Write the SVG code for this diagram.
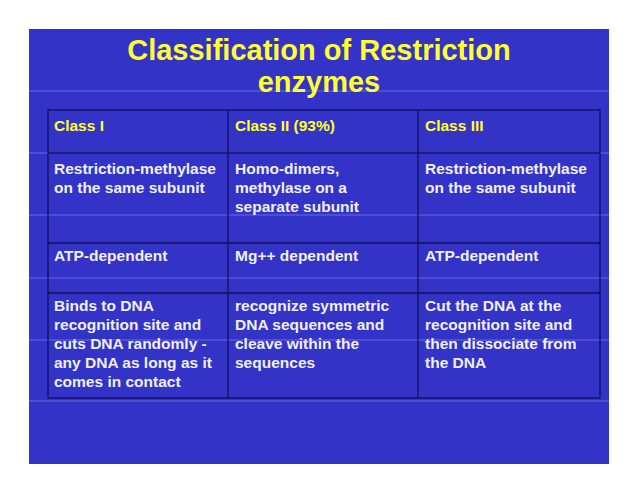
<svg xmlns="http://www.w3.org/2000/svg" width="638" height="493" viewBox="0 0 638 493">
<style>
.t{font-family:"Liberation Sans",Arial,sans-serif;font-weight:bold;fill:#ffff33;font-size:29px;text-anchor:middle}
.h{font-family:"Liberation Sans",Arial,sans-serif;font-weight:bold;fill:#ffff33;font-size:15.5px}
.b{font-family:"Liberation Sans",Arial,sans-serif;font-weight:bold;fill:#f0f0f8;font-size:15.5px}
.g{stroke:#6a6ae0;stroke-width:1}
.k{stroke:#10105a;stroke-width:1.3;fill:none}
</style>
<rect width="638" height="493" fill="#fff"/>
<rect x="29" y="29" width="580" height="435" fill="#3333c8"/>
<g id="grid">
<line class="g" x1="29" y1="91" x2="609" y2="91"/>
<line class="g" x1="29" y1="153" x2="609" y2="153"/>
<line class="g" x1="29" y1="215" x2="609" y2="215"/>
<line class="g" x1="29" y1="278" x2="609" y2="278"/>
<line class="g" x1="29" y1="340" x2="609" y2="340"/>
<line class="g" x1="29" y1="401" x2="609" y2="401"/>
</g>
<g id="title">
<text class="t" x="319" y="60">Classification of Restriction</text>
<text class="t" x="319" y="92">enzymes</text>
</g>
<g id="table">
<rect class="k" x="48" y="110" width="552" height="288" stroke-width="2"/>
<line class="k" x1="228" y1="110" x2="228" y2="398"/>
<line class="k" x1="418" y1="110" x2="418" y2="398"/>
<line class="k" x1="48" y1="153" x2="600" y2="153"/>
<line class="k" x1="48" y1="243" x2="600" y2="243"/>
<line class="k" x1="48" y1="293" x2="600" y2="293"/>
</g>
<g id="header">
<text class="h" x="54" y="131">Class I</text>
<text class="h" x="235" y="131">Class II (93%)</text>
<text class="h" x="425" y="131">Class III</text>
</g>
<g id="row2">
<text class="b" x="54" y="174">Restriction-methylase</text>
<text class="b" x="54" y="193">on the same subunit</text>
<text class="b" x="235" y="174">Homo-dimers,</text>
<text class="b" x="235" y="193">methylase on a</text>
<text class="b" x="235" y="212">separate subunit</text>
<text class="b" x="425" y="174">Restriction-methylase</text>
<text class="b" x="425" y="193">on the same subunit</text>
</g>
<g id="row3">
<text class="b" x="54" y="261">ATP-dependent</text>
<text class="b" x="235" y="261">Mg++ dependent</text>
<text class="b" x="425" y="261">ATP-dependent</text>
</g>
<g id="row4">
<text class="b" x="54" y="311">Binds to DNA</text>
<text class="b" x="54" y="330">recognition site and</text>
<text class="b" x="54" y="349">cuts DNA randomly -</text>
<text class="b" x="54" y="368">any DNA as long as it</text>
<text class="b" x="54" y="387">comes in contact</text>
<text class="b" x="235" y="311">recognize symmetric</text>
<text class="b" x="235" y="330">DNA sequences and</text>
<text class="b" x="235" y="349">cleave within the</text>
<text class="b" x="235" y="368">sequences</text>
<text class="b" x="425" y="311">Cut the DNA at the</text>
<text class="b" x="425" y="330">recognition site and</text>
<text class="b" x="425" y="349">then dissociate from</text>
<text class="b" x="425" y="368">the DNA</text>
</g>
</svg>
